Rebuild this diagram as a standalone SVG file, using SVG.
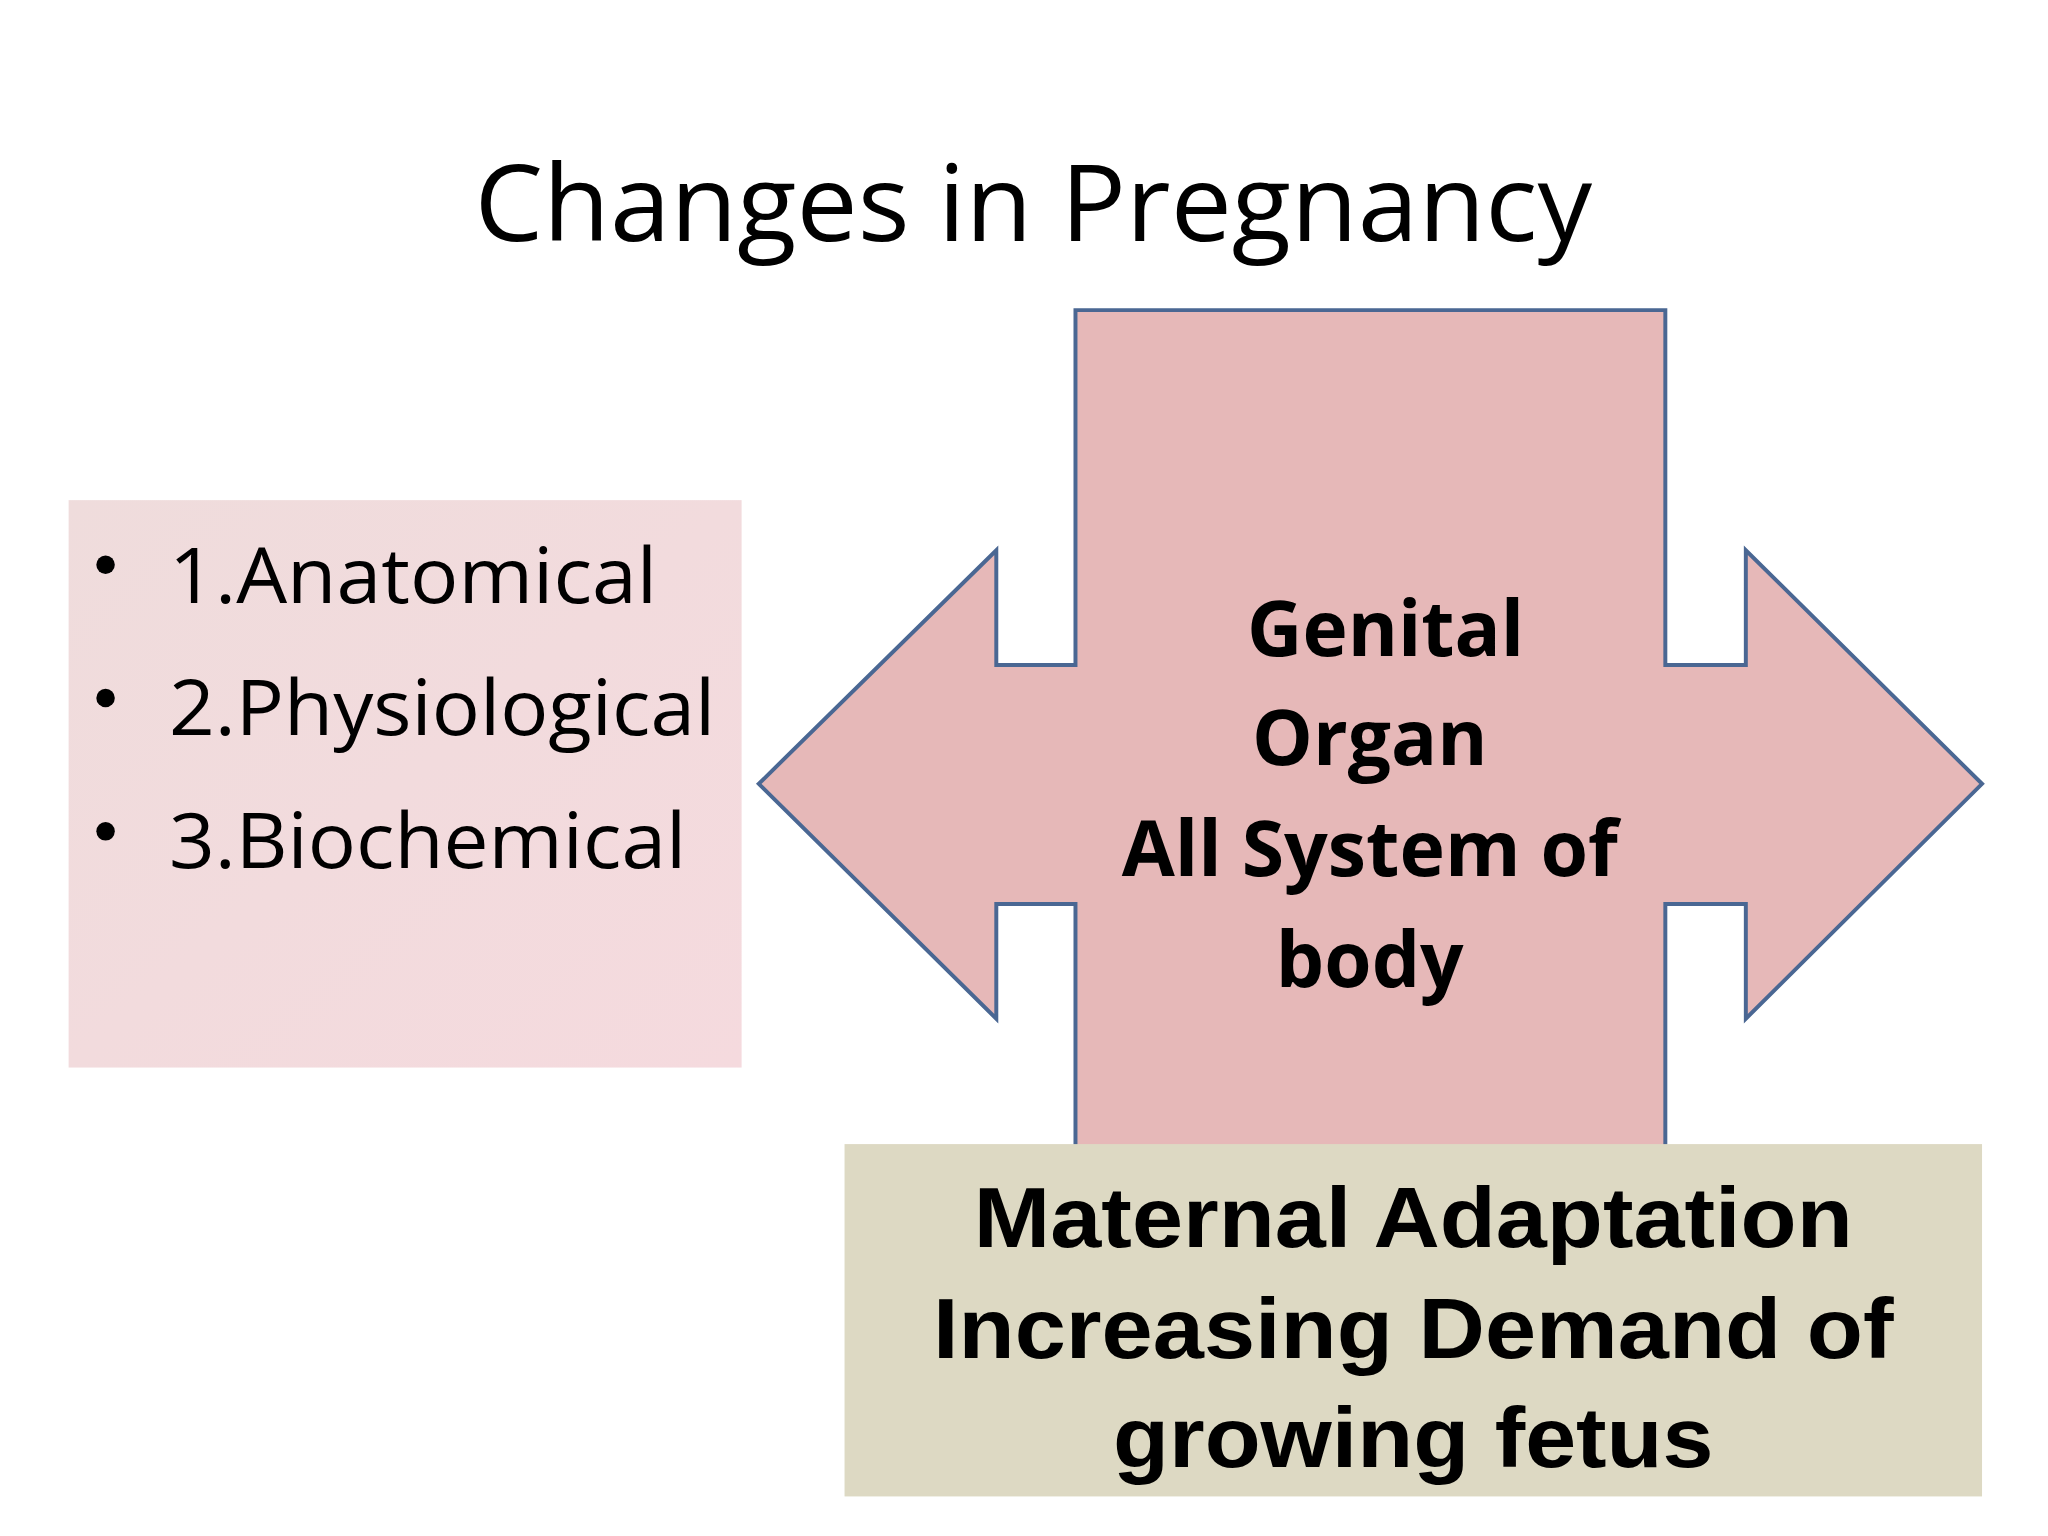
<svg xmlns="http://www.w3.org/2000/svg" width="2048" height="1536" viewBox="0 0 2048 1536">
<defs>
<linearGradient id="lg" x1="0" y1="0" x2="1" y2="1"><stop offset="0" stop-color="#efdcdc"/><stop offset="1" stop-color="#f5dade"/></linearGradient>
<style>
.c{font-family:"Open Sans","Liberation Sans",sans-serif;fill:#000}
.b{font-family:"Open Sans","Liberation Sans",sans-serif;font-weight:bold;fill:#000;text-anchor:middle}
.a{font-family:"Liberation Sans",Arial,sans-serif;font-weight:bold;fill:#000;text-anchor:middle}
</style>
</defs>
<rect width="2048" height="1536" fill="#fff"/>
<g transform="scale(1.3196)">
<g id="title"><text class="c" x="783" y="183" font-size="80" text-anchor="middle" textLength="847" lengthAdjust="spacingAndGlyphs">Changes in Pregnancy</text></g>
<g id="list">
<rect x="52" y="379" width="510" height="430" fill="url(#lg)"/>
<g class="c" font-size="58">
<circle cx="80" cy="428" r="7"/><text x="128" y="457" textLength="370" lengthAdjust="spacingAndGlyphs">1.Anatomical</text>
<circle cx="80" cy="529" r="7"/><text x="128" y="557" textLength="414" lengthAdjust="spacingAndGlyphs">2.Physiological</text>
<circle cx="80" cy="630" r="7"/><text x="128" y="658" textLength="392" lengthAdjust="spacingAndGlyphs">3.Biochemical</text>
</g>
</g>
<g id="cross">
<polygon points="815,235 1262,235 1262,504 1323,504 1323,417 1502,594 1323,772 1323,685 1262,685 1262,870 815,870 815,685 755,685 755,772 575,594 755,417 755,504 815,504" fill="#e6b8b8" stroke="#4a6793" stroke-width="3"/>
<g class="b" font-size="58">
<text x="1050" y="497">Genital</text>
<text x="1038" y="580">Organ</text>
<text x="1038" y="664" textLength="376" lengthAdjust="spacingAndGlyphs">All System of</text>
<text x="1038" y="748">body</text>
</g>
</g>
<g id="adapt">
<rect x="640" y="867" width="862" height="267" fill="#ddd9c3"/>
<g class="a" font-size="64">
<text x="1071" y="945" textLength="666" lengthAdjust="spacingAndGlyphs">Maternal Adaptation</text>
<text x="1071" y="1029" textLength="728" lengthAdjust="spacingAndGlyphs">Increasing Demand of</text>
<text x="1071" y="1112" textLength="455" lengthAdjust="spacingAndGlyphs">growing fetus</text>
</g>
</g>
</g>
</svg>
